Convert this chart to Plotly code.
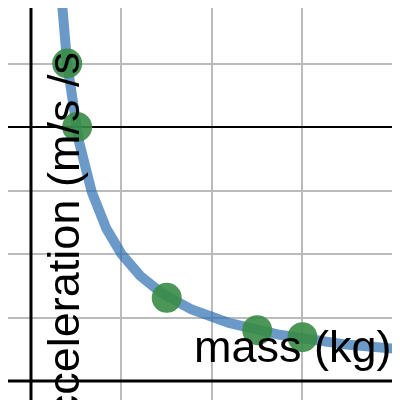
import numpy as np
import plotly.graph_objects as go

# measured points (mass, acceleration)
mass = [0.40, 0.51, 1.50, 2.50, 3.00]
accel = [5.0, 4.0, 1.31, 0.80, 0.69]
k_fit = 2.0  # a = k / m

xs = np.geomspace(0.3, 4.6, 600)
ys = k_fit / xs

fig = go.Figure()
fig.add_trace(go.Scatter(x=xs, y=ys, mode="lines",
                         line=dict(color="#2d70b3", width=10), opacity=0.7))
fig.add_trace(go.Scatter(x=mass, y=accel, mode="markers",
                         marker=dict(color="#388c46", size=30, line=dict(width=0)), opacity=0.9))

# axes and the horizontal line at y=4
fig.add_shape(type="line", x0=0, x1=0, y0=-1, y1=7, line=dict(color="black", width=3), layer="between")
fig.add_shape(type="line", x0=-1, x1=5, y0=0, y1=0, line=dict(color="black", width=3), layer="between")
fig.add_shape(type="line", x0=-1, x1=5, y0=4, y1=4, line=dict(color="black", width=2), layer="between")

fig.add_annotation(x=2.89, y=0.55, text="mass (kg)", showarrow=False,
                   font=dict(size=45, color="black", family="Liberation Sans"))
fig.add_annotation(x=0.36, y=2.1, text="acceleration (m/s /s", showarrow=False, textangle=-90,
                   font=dict(size=45, color="black", family="Liberation Sans"))

fig.update_xaxes(range=[-0.254, 4.166], dtick=1, showgrid=True, gridcolor="#bbbbbb", gridwidth=1.5,
                 zeroline=False, showticklabels=False)
fig.update_yaxes(range=[-0.425, 5.874], dtick=1, showgrid=True, gridcolor="#bbbbbb", gridwidth=1.5,
                 zeroline=False, showticklabels=False)
fig.update_layout(width=400, height=400, margin=dict(l=0, r=0, t=0, b=0),
                  plot_bgcolor="white", paper_bgcolor="white", showlegend=False)
fig.write_html("out.html", config={"displayModeBar": False})
